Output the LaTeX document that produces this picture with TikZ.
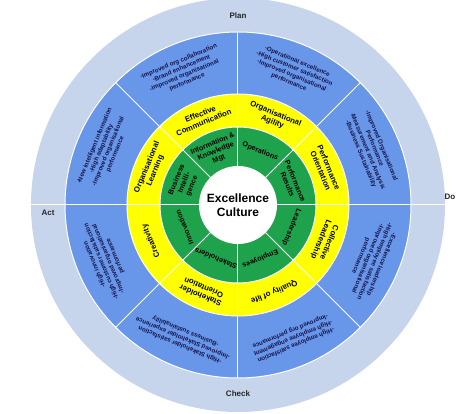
\documentclass[tikz,border=0pt]{standalone}
\usepackage{fontspec}
\setmainfont{Liberation Sans}
\definecolor{outerc}{HTML}{C6D4EC}
\definecolor{bluec}{HTML}{6896E8}
\definecolor{yellowc}{HTML}{FFFF00}
\definecolor{greenc}{HTML}{1FA24C}
\definecolor{navy}{HTML}{14144A}
\tikzset{
  bluetxt/.style={font=\fontsize{6.2}{7.4}\selectfont\bfseries, text=navy, align=center, inner sep=0pt},
  yeltxt/.style={font=\fontsize{7.8}{8.8}\selectfont\bfseries, text=black, align=center, inner sep=0pt},
  grntxt/.style={font=\fontsize{7.2}{8.2}\selectfont\bfseries, text=black, align=center, inner sep=0pt},
  pdca/.style={font=\fontsize{8}{9}\selectfont\bfseries, text=black!85, inner sep=0pt},
  divider/.style={white, line width=1pt}
}
\begin{document}
\begin{tikzpicture}[x=1pt,y=1pt]
\useasboundingbox (-238,-209) rectangle (236,205);
\fill[outerc] (0,0) circle (207);
\fill[bluec] (0,0) circle (173);
\fill[yellowc] (0,0) circle (111);
\fill[greenc] (0,0) circle (78);
\fill[white] (0,0) circle (39);
\foreach \r in {173,111,78} \draw[divider] (0,0) circle (\r);
\foreach \a in {0,45,...,315} \draw[divider] (\a:39) -- (\a:173);
\draw[divider] (0:173) -- (0:207);
\draw[divider] (180:173) -- (180:207);
% outer ring labels
\node[pdca] (plan) at (0,189) {Plan};
\node[pdca] (do) at (212,8) {Do};
\node[pdca] (act) at (-190,-8) {Act};
\node[pdca] (check) at (0,-189) {Check};
% blue ring
\node[bluetxt, rotate=-22.5] (b1) at (67.5:144) {-Operational excellence\\-High customer satisfaction\\-Improved organisational\\performance};
\node[bluetxt, rotate=22.5] (b2) at (112.5:144) {-Improved org collaboration\\-Brand enhancement\\-Improved organisational\\performance};
\node[bluetxt, rotate=67.5] (b3) at (157.5:144) {-New intelligent information\\-High adaptability\\-Improved organisational\\performance};
\node[bluetxt, rotate=112.5] (b4) at (202.5:144) {-High innovation\\-High customer satisfaction\\-Improved organisational\\performance};
\node[bluetxt, rotate=157.5] (b5) at (247.5:144) {-High Stakeholder satisfaction\\-Improved Stakeholder experience\\-Business sustainability};
\node[bluetxt, rotate=202.5] (b6) at (292.5:144) {-High employee satisfaction\\-High employee engagement\\-Improved org performance};
\node[bluetxt, rotate=247.5] (b7) at (337.5:144) {-Excellence leadership\\-High employee satisfaction\\-Improved organisational\\performance};
\node[bluetxt, rotate=-67.5] (b8) at (22.5:144) {-Improved Organisational\\Performance\\-Measurement and Analysis\\-Business Sustainability};
% yellow ring
\node[yeltxt, rotate=22.5] (y1) at (112.5:94) {Effective\\Communication};
\node[yeltxt, rotate=-22.5] (y2) at (67.5:94) {Organisational\\Agility};
\node[yeltxt, rotate=-67.5] (y3) at (22.5:94) {Performance\\Orientation};
\node[yeltxt, rotate=-112.5] (y4) at (-22.5:94) {Collective\\Leadership};
\node[yeltxt, rotate=-157.5] (y5) at (-67.5:94) {Quality of life};
\node[yeltxt, rotate=157.5] (y6) at (-112.5:94) {Stakeholder\\Orientation};
\node[yeltxt, rotate=112.5] (y7) at (-157.5:94) {Creativity};
\node[yeltxt, rotate=67.5] (y8) at (157.5:94) {Organisational\\Learning};
% green ring
\node[grntxt, rotate=22.5] (g1) at (112.5:58) {Information \&\\Knowledge\\Mgt};
\node[grntxt, rotate=-22.5] (g2) at (67.5:58) {Operations};
\node[grntxt, rotate=-67.5] (g3) at (22.5:58) {Performance\\Results};
\node[grntxt, rotate=-112.5] (g4) at (-22.5:58) {Leadership};
\node[grntxt, rotate=-157.5] (g5) at (-67.5:58) {Employees};
\node[grntxt, rotate=157.5] (g6) at (-112.5:58) {Stakeholders};
\node[grntxt, rotate=112.5] (g7) at (-157.5:58) {Innovation};
\node[grntxt, rotate=67.5] (g8) at (157.5:58) {Business\\Intelli-\\gence};
% center
\node[font=\fontsize{12}{13.5}\selectfont\bfseries, align=center] (c) at (0,0) {Excellence\\Culture};
\end{tikzpicture}
\end{document}
